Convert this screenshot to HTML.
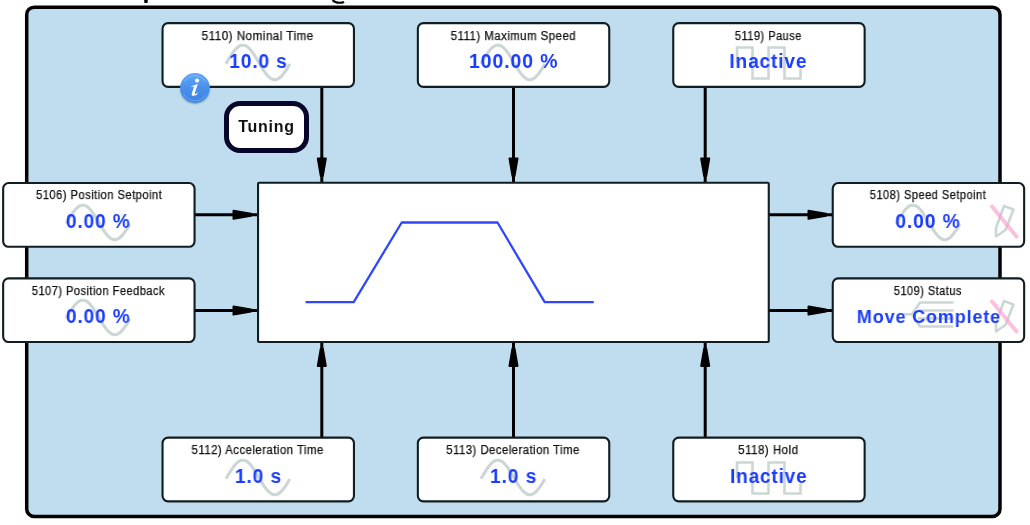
<!DOCTYPE html>
<html><head><meta charset="utf-8"><style>
html,body{margin:0;padding:0;background:#fff;width:1030px;height:525px;overflow:hidden;position:relative;font-family:"Liberation Sans",sans-serif}
.tt{position:absolute;width:193px;text-align:center;font-size:12px;line-height:14px;height:14px;color:#111;white-space:nowrap;letter-spacing:0.5px;-webkit-text-stroke:0.25px #111}
.vv{position:absolute;width:193px;text-align:center;font-size:19.5px;font-weight:bold;line-height:22px;height:22px;color:#1a3cff;white-space:nowrap;letter-spacing:0.9px}
.tt span,.vv span{display:inline-block;will-change:transform}
.tuning{position:absolute;left:224px;top:101px;width:85px;height:52px;box-sizing:border-box;border:5px solid #06062a;border-radius:16px;background:#fff;font-weight:bold;font-size:16px;color:#111;text-align:center;line-height:42px;letter-spacing:0.7px;will-change:transform}
.info{position:absolute;left:180.1px;top:73.4px;width:30px;height:30px;border-radius:50%;box-shadow:0 1.2px 1.5px rgba(30,70,50,0.35)}
</style></head><body>
<svg width="1030" height="525" style="position:absolute;left:0;top:0"><rect x="26.7" y="7.15" width="973.3" height="509.4" rx="7.5" fill="#bfddef" stroke="#000" stroke-width="3.5"/></svg>
<svg width="1030" height="525" style="position:absolute;left:0;top:0">
<path d="M144.2,0 L147.8,0 L147.6,2.4 Q147.4,3 146.8,3 L145,3 Q144.4,3 144.3,2.4 Z" fill="#000"/>
<path d="M332.6,0 Q335,2.8 339.5,2.8 Q342.5,2.8 344,1.8" fill="none" stroke="#000" stroke-width="2"/>
<path d="M321.8,87 L321.8,182.5" stroke="#000" stroke-width="3"/><path d="M317.8,158.5 L320.8,176.0 L322.8,176.0 L325.8,158.5 Z" fill="#000" stroke="#000" stroke-width="2" stroke-linejoin="round"/><path d="M321.8,437.5 L321.8,342" stroke="#000" stroke-width="3"/><path d="M317.8,366 L320.8,348.5 L322.8,348.5 L325.8,366 Z" fill="#000" stroke="#000" stroke-width="2" stroke-linejoin="round"/><path d="M513.5,87 L513.5,182.5" stroke="#000" stroke-width="3"/><path d="M509.5,158.5 L512.5,176.0 L514.5,176.0 L517.5,158.5 Z" fill="#000" stroke="#000" stroke-width="2" stroke-linejoin="round"/><path d="M513.5,437.5 L513.5,342" stroke="#000" stroke-width="3"/><path d="M509.5,366 L512.5,348.5 L514.5,348.5 L517.5,366 Z" fill="#000" stroke="#000" stroke-width="2" stroke-linejoin="round"/><path d="M705.2,87 L705.2,182.5" stroke="#000" stroke-width="3"/><path d="M701.2,158.5 L704.2,176.0 L706.2,176.0 L709.2,158.5 Z" fill="#000" stroke="#000" stroke-width="2" stroke-linejoin="round"/><path d="M705.2,437.5 L705.2,342" stroke="#000" stroke-width="3"/><path d="M701.2,366 L704.2,348.5 L706.2,348.5 L709.2,366 Z" fill="#000" stroke="#000" stroke-width="2" stroke-linejoin="round"/><path d="M194,214.8 L257.5,214.8" stroke="#000" stroke-width="3"/><path d="M233.5,210.8 L251.0,213.8 L251.0,215.8 L233.5,218.8 Z" fill="#000" stroke="#000" stroke-width="2" stroke-linejoin="round"/><path d="M769,214.8 L832.5,214.8" stroke="#000" stroke-width="3"/><path d="M808.5,210.8 L826.0,213.8 L826.0,215.8 L808.5,218.8 Z" fill="#000" stroke="#000" stroke-width="2" stroke-linejoin="round"/><path d="M194,310.5 L257.5,310.5" stroke="#000" stroke-width="3"/><path d="M233.5,306.5 L251.0,309.5 L251.0,311.5 L233.5,314.5 Z" fill="#000" stroke="#000" stroke-width="2" stroke-linejoin="round"/><path d="M769,310.5 L832.5,310.5" stroke="#000" stroke-width="3"/><path d="M808.5,306.5 L826.0,309.5 L826.0,311.5 L808.5,314.5 Z" fill="#000" stroke="#000" stroke-width="2" stroke-linejoin="round"/>
</svg>
<svg width="1030" height="525" style="position:absolute;left:0;top:0"><rect x="162.55" y="23.15" width="191.40" height="63.70" rx="5.5" fill="#fff" stroke="#101d21" stroke-width="2.1"/><rect x="417.85" y="23.15" width="191.40" height="63.70" rx="5.5" fill="#fff" stroke="#101d21" stroke-width="2.1"/><rect x="673.25" y="23.15" width="191.40" height="63.70" rx="5.5" fill="#fff" stroke="#101d21" stroke-width="2.1"/><rect x="3.15" y="183.05" width="191.40" height="63.70" rx="5.5" fill="#fff" stroke="#101d21" stroke-width="2.1"/><rect x="3.15" y="278.35" width="191.40" height="63.70" rx="5.5" fill="#fff" stroke="#101d21" stroke-width="2.1"/><rect x="832.75" y="183.05" width="191.40" height="63.70" rx="5.5" fill="#fff" stroke="#101d21" stroke-width="2.1"/><rect x="832.75" y="278.35" width="191.40" height="63.70" rx="5.5" fill="#fff" stroke="#101d21" stroke-width="2.1"/><rect x="162.55" y="437.65" width="191.40" height="63.70" rx="5.5" fill="#fff" stroke="#101d21" stroke-width="2.1"/><rect x="417.85" y="437.65" width="191.40" height="63.70" rx="5.5" fill="#fff" stroke="#101d21" stroke-width="2.1"/><rect x="673.25" y="437.65" width="191.40" height="63.70" rx="5.5" fill="#fff" stroke="#101d21" stroke-width="2.1"/><rect x="258.05" y="182.75" width="510.7" height="159.2" rx="1" fill="#fff" stroke="#101d21" stroke-width="2.1"/></svg>
<svg width="1030" height="525" style="position:absolute;left:0;top:0">
<path d="M226.0,63.7 L227.6,61.0 L229.2,58.3 L230.8,55.8 L232.4,53.3 L234.0,51.2 L235.6,49.2 L237.2,47.7 L238.8,46.4 L240.4,45.6 L242.0,45.2 L243.6,45.2 L245.2,45.6 L246.8,46.4 L248.4,47.6 L250.0,49.2 L251.6,51.1 L253.2,53.3 L254.7,55.7 L256.3,58.3 L257.9,60.9 L259.5,63.6 L261.1,66.3 L262.7,68.9 L264.3,71.3 L265.9,73.5 L267.5,75.5 L269.1,77.1 L270.7,78.3 L272.3,79.2 L273.9,79.6 L275.5,79.7 L277.1,79.3 L278.7,78.5 L280.3,77.3 L281.9,75.7 L283.5,73.8 L285.1,71.6 L286.6,69.3 L288.2,66.7 L289.8,64.0" fill="none" stroke="#cdd6d6" stroke-width="3.1" stroke-linecap="butt"/><path d="M481.0,63.7 L482.6,61.0 L484.2,58.3 L485.8,55.8 L487.4,53.3 L489.0,51.2 L490.6,49.2 L492.2,47.7 L493.8,46.4 L495.4,45.6 L497.0,45.2 L498.6,45.2 L500.2,45.6 L501.8,46.4 L503.4,47.6 L505.0,49.2 L506.6,51.1 L508.2,53.3 L509.7,55.7 L511.3,58.3 L512.9,60.9 L514.5,63.6 L516.1,66.3 L517.7,68.9 L519.3,71.3 L520.9,73.5 L522.5,75.5 L524.1,77.1 L525.7,78.3 L527.3,79.2 L528.9,79.6 L530.5,79.7 L532.1,79.3 L533.7,78.5 L535.3,77.3 L536.9,75.7 L538.5,73.8 L540.1,71.6 L541.6,69.3 L543.2,66.7 L544.8,64.0" fill="none" stroke="#cdd6d6" stroke-width="3.1" stroke-linecap="butt"/><path d="M737.0,63.0 L737.0,47.5 L752.5,47.5 L752.5,78.5 L768.5,78.5 L768.5,47.5 L784.5,47.5 L784.5,78.5 L800.5,78.5 L800.5,68.5" fill="none" stroke="#cdd6d6" stroke-width="2.6" stroke-linejoin="miter"/><path d="M66.0,223.7 L67.6,221.0 L69.2,218.3 L70.8,215.8 L72.4,213.3 L74.0,211.2 L75.6,209.2 L77.2,207.7 L78.8,206.4 L80.4,205.6 L82.0,205.2 L83.6,205.2 L85.2,205.6 L86.8,206.4 L88.4,207.6 L90.0,209.2 L91.6,211.1 L93.2,213.3 L94.7,215.7 L96.3,218.3 L97.9,220.9 L99.5,223.6 L101.1,226.3 L102.7,228.9 L104.3,231.3 L105.9,233.5 L107.5,235.5 L109.1,237.1 L110.7,238.3 L112.3,239.2 L113.9,239.6 L115.5,239.7 L117.1,239.3 L118.7,238.5 L120.3,237.3 L121.9,235.7 L123.5,233.8 L125.1,231.6 L126.6,229.3 L128.2,226.7 L129.8,224.0" fill="none" stroke="#cdd6d6" stroke-width="3.1" stroke-linecap="butt"/><path d="M66.0,318.7 L67.6,316.0 L69.2,313.3 L70.8,310.8 L72.4,308.3 L74.0,306.2 L75.6,304.2 L77.2,302.7 L78.8,301.4 L80.4,300.6 L82.0,300.2 L83.6,300.2 L85.2,300.6 L86.8,301.4 L88.4,302.6 L90.0,304.2 L91.6,306.1 L93.2,308.3 L94.7,310.7 L96.3,313.3 L97.9,315.9 L99.5,318.6 L101.1,321.3 L102.7,323.9 L104.3,326.3 L105.9,328.5 L107.5,330.5 L109.1,332.1 L110.7,333.3 L112.3,334.2 L113.9,334.6 L115.5,334.7 L117.1,334.3 L118.7,333.5 L120.3,332.3 L121.9,330.7 L123.5,328.8 L125.1,326.6 L126.6,324.3 L128.2,321.7 L129.8,319.0" fill="none" stroke="#cdd6d6" stroke-width="3.1" stroke-linecap="butt"/><path d="M896.0,223.7 L897.6,221.0 L899.2,218.3 L900.8,215.8 L902.4,213.3 L904.0,211.2 L905.6,209.2 L907.2,207.7 L908.8,206.4 L910.4,205.6 L912.0,205.2 L913.6,205.2 L915.2,205.6 L916.8,206.4 L918.4,207.6 L920.0,209.2 L921.6,211.1 L923.2,213.3 L924.7,215.7 L926.3,218.3 L927.9,220.9 L929.5,223.6 L931.1,226.3 L932.7,228.9 L934.3,231.3 L935.9,233.5 L937.5,235.5 L939.1,237.1 L940.7,238.3 L942.3,239.2 L943.9,239.6 L945.5,239.7 L947.1,239.3 L948.7,238.5 L950.3,237.3 L951.9,235.7 L953.5,233.8 L955.1,231.6 L956.6,229.3 L958.2,226.7 L959.8,224.0" fill="none" stroke="#cdd6d6" stroke-width="3.1" stroke-linecap="butt"/><path d="M1004,206 L1013.5,209.5 L1005.5,230 L996,236.5 L996,228 Z" fill="none" stroke="#cdd6d6" stroke-width="2.6" stroke-linejoin="round"/><path d="M992,206.5 L1016.5,236.5" stroke="#ff9ccc" stroke-opacity="0.65" stroke-width="4" stroke-linecap="round"/><path d="M903,314.3 L912,314.3 L920,302.5 L953.5,302.5 M912,314.3 L920,326.5 L953.5,326.5 M918,310.5 L953.5,310.5 M918,318.5 L953.5,318.5" fill="none" stroke="#cdd6d6" stroke-width="2.6"/><path d="M1004,301 L1013.5,304.5 L1005.5,325 L996,331.5 L996,323 Z" fill="none" stroke="#cdd6d6" stroke-width="2.6" stroke-linejoin="round"/><path d="M992,301.5 L1016.5,331.5" stroke="#ff9ccc" stroke-opacity="0.65" stroke-width="4" stroke-linecap="round"/><path d="M226.0,478.7 L227.6,476.0 L229.2,473.3 L230.8,470.8 L232.4,468.3 L234.0,466.2 L235.6,464.2 L237.2,462.7 L238.8,461.4 L240.4,460.6 L242.0,460.2 L243.6,460.2 L245.2,460.6 L246.8,461.4 L248.4,462.6 L250.0,464.2 L251.6,466.1 L253.2,468.3 L254.7,470.7 L256.3,473.3 L257.9,475.9 L259.5,478.6 L261.1,481.3 L262.7,483.9 L264.3,486.3 L265.9,488.5 L267.5,490.5 L269.1,492.1 L270.7,493.3 L272.3,494.2 L273.9,494.6 L275.5,494.7 L277.1,494.3 L278.7,493.5 L280.3,492.3 L281.9,490.7 L283.5,488.8 L285.1,486.6 L286.6,484.3 L288.2,481.7 L289.8,479.0" fill="none" stroke="#cdd6d6" stroke-width="3.1" stroke-linecap="butt"/><path d="M481.0,478.7 L482.6,476.0 L484.2,473.3 L485.8,470.8 L487.4,468.3 L489.0,466.2 L490.6,464.2 L492.2,462.7 L493.8,461.4 L495.4,460.6 L497.0,460.2 L498.6,460.2 L500.2,460.6 L501.8,461.4 L503.4,462.6 L505.0,464.2 L506.6,466.1 L508.2,468.3 L509.7,470.7 L511.3,473.3 L512.9,475.9 L514.5,478.6 L516.1,481.3 L517.7,483.9 L519.3,486.3 L520.9,488.5 L522.5,490.5 L524.1,492.1 L525.7,493.3 L527.3,494.2 L528.9,494.6 L530.5,494.7 L532.1,494.3 L533.7,493.5 L535.3,492.3 L536.9,490.7 L538.5,488.8 L540.1,486.6 L541.6,484.3 L543.2,481.7 L544.8,479.0" fill="none" stroke="#cdd6d6" stroke-width="3.1" stroke-linecap="butt"/><path d="M737.0,478.0 L737.0,462.5 L752.5,462.5 L752.5,493.5 L768.5,493.5 L768.5,462.5 L784.5,462.5 L784.5,493.5 L800.5,493.5 L800.5,483.5" fill="none" stroke="#cdd6d6" stroke-width="2.6" stroke-linejoin="miter"/>
<path d="M305.5,302.2 L353.7,302.2 L401.7,222.5 L497.5,222.5 L544.7,302.2 L593.8,302.2" fill="none" stroke="#3048fa" stroke-width="2.3" stroke-linejoin="round"/>
</svg>
<div class="tt" style="left:162px;top:29px"><span style="transform:translateX(-1.08px) scaleX(0.9708)">5110) Nominal Time</span></div><div class="vv" style="left:162px;top:50.4px;font-size:19.5px"><span style="transform:translateX(-0.29px) scaleX(0.9819)">10.0 s</span></div><div class="tt" style="left:417px;top:29px"><span style="transform:translateX(-0.50px) scaleX(0.9513)">5111) Maximum Speed</span></div><div class="vv" style="left:417px;top:50.4px;font-size:19.5px"><span style="transform:translateX(-0.07px) scaleX(0.9998)">100.00 %</span></div><div class="tt" style="left:672px;top:29px"><span style="transform:translateX(-0.03px) scaleX(0.9215)">5119) Pause</span></div><div class="vv" style="left:672px;top:50.4px;font-size:19.5px"><span style="transform:translateX(-0.51px) scaleX(0.9774)">Inactive</span></div><div class="tt" style="left:2px;top:188px"><span style="transform:translateX(0.33px) scaleX(0.9306)">5106) Position Setpoint</span></div><div class="vv" style="left:2px;top:209.9px;font-size:19.5px"><span style="transform:translateX(0.25px) scaleX(0.9802)">0.00 %</span></div><div class="tt" style="left:2px;top:284px"><span style="transform:translateX(0.25px) scaleX(0.9231)">5107) Position Feedback</span></div><div class="vv" style="left:2px;top:305.4px;font-size:19.5px"><span style="transform:translateX(0.25px) scaleX(0.9802)">0.00 %</span></div><div class="tt" style="left:832px;top:188px"><span style="transform:translateX(-0.04px) scaleX(0.9238)">5108) Speed Setpoint</span></div><div class="vv" style="left:832px;top:209.9px;font-size:19.5px"><span style="transform:translateX(-0.04px) scaleX(0.9900)">0.00 %</span></div><div class="tt" style="left:832px;top:284px"><span style="transform:translateX(-0.16px) scaleX(0.9206)">5109) Status</span></div><div class="vv" style="left:832px;top:306.29999999999995px;font-size:18.6px"><span style="transform:translateX(0.39px) scaleX(0.9673)">Move Complete</span></div><div class="tt" style="left:162px;top:443px"><span style="transform:translateX(-1.09px) scaleX(0.9485)">5112) Acceleration Time</span></div><div class="vv" style="left:162px;top:465.4px;font-size:19.5px"><span style="transform:translateX(-0.51px) scaleX(0.9835)">1.0 s</span></div><div class="tt" style="left:417px;top:443px"><span style="transform:translateX(-0.71px) scaleX(0.9444)">5113) Deceleration Time</span></div><div class="vv" style="left:417px;top:465.4px;font-size:19.5px"><span style="transform:translateX(-0.38px) scaleX(0.9856)">1.0 s</span></div><div class="tt" style="left:672px;top:443px"><span style="transform:translateX(-0.13px) scaleX(0.9599)">5118) Hold</span></div><div class="vv" style="left:672px;top:465.4px;font-size:19.5px"><span style="transform:translateX(-0.09px) scaleX(0.9713)">Inactive</span></div>
<div class="tuning">Tuning</div>
<div class="info"><svg width="30" height="31" viewBox="0 0 30 31" style="position:absolute;left:0;top:0;overflow:visible"><defs><linearGradient id="ig" x1="0" y1="0" x2="0" y2="1"><stop offset="0" stop-color="#62a6f6"/><stop offset="0.5" stop-color="#4a90ec"/><stop offset="1" stop-color="#3b82e4"/></linearGradient></defs><circle cx="15" cy="15" r="14.9" fill="url(#ig)"/><path d="M4.3,8.8 A12.4,12.4 0 0 1 25.7,8.8" fill="none" stroke="#b0d6ff" stroke-opacity="0.4" stroke-width="1"/><path d="M3.9,21.4 A12.8,12.8 0 0 0 26.1,21.4" fill="none" stroke="#8cc2ff" stroke-opacity="0.55" stroke-width="1"/><circle cx="17.1" cy="7.6" r="2.1" fill="#fff"/><path d="M11.1,13.3 L17.8,10.9 L14.8,20.1 Q14.4,21.5 15.6,20.9 L18,19.2 Q17,22.7 13.3,22.8 Q11.2,22.8 11.8,20.5 L14,13.8 Q13,13.3 11.1,13.8 Z" fill="#fff"/></svg></div>
</body></html>
